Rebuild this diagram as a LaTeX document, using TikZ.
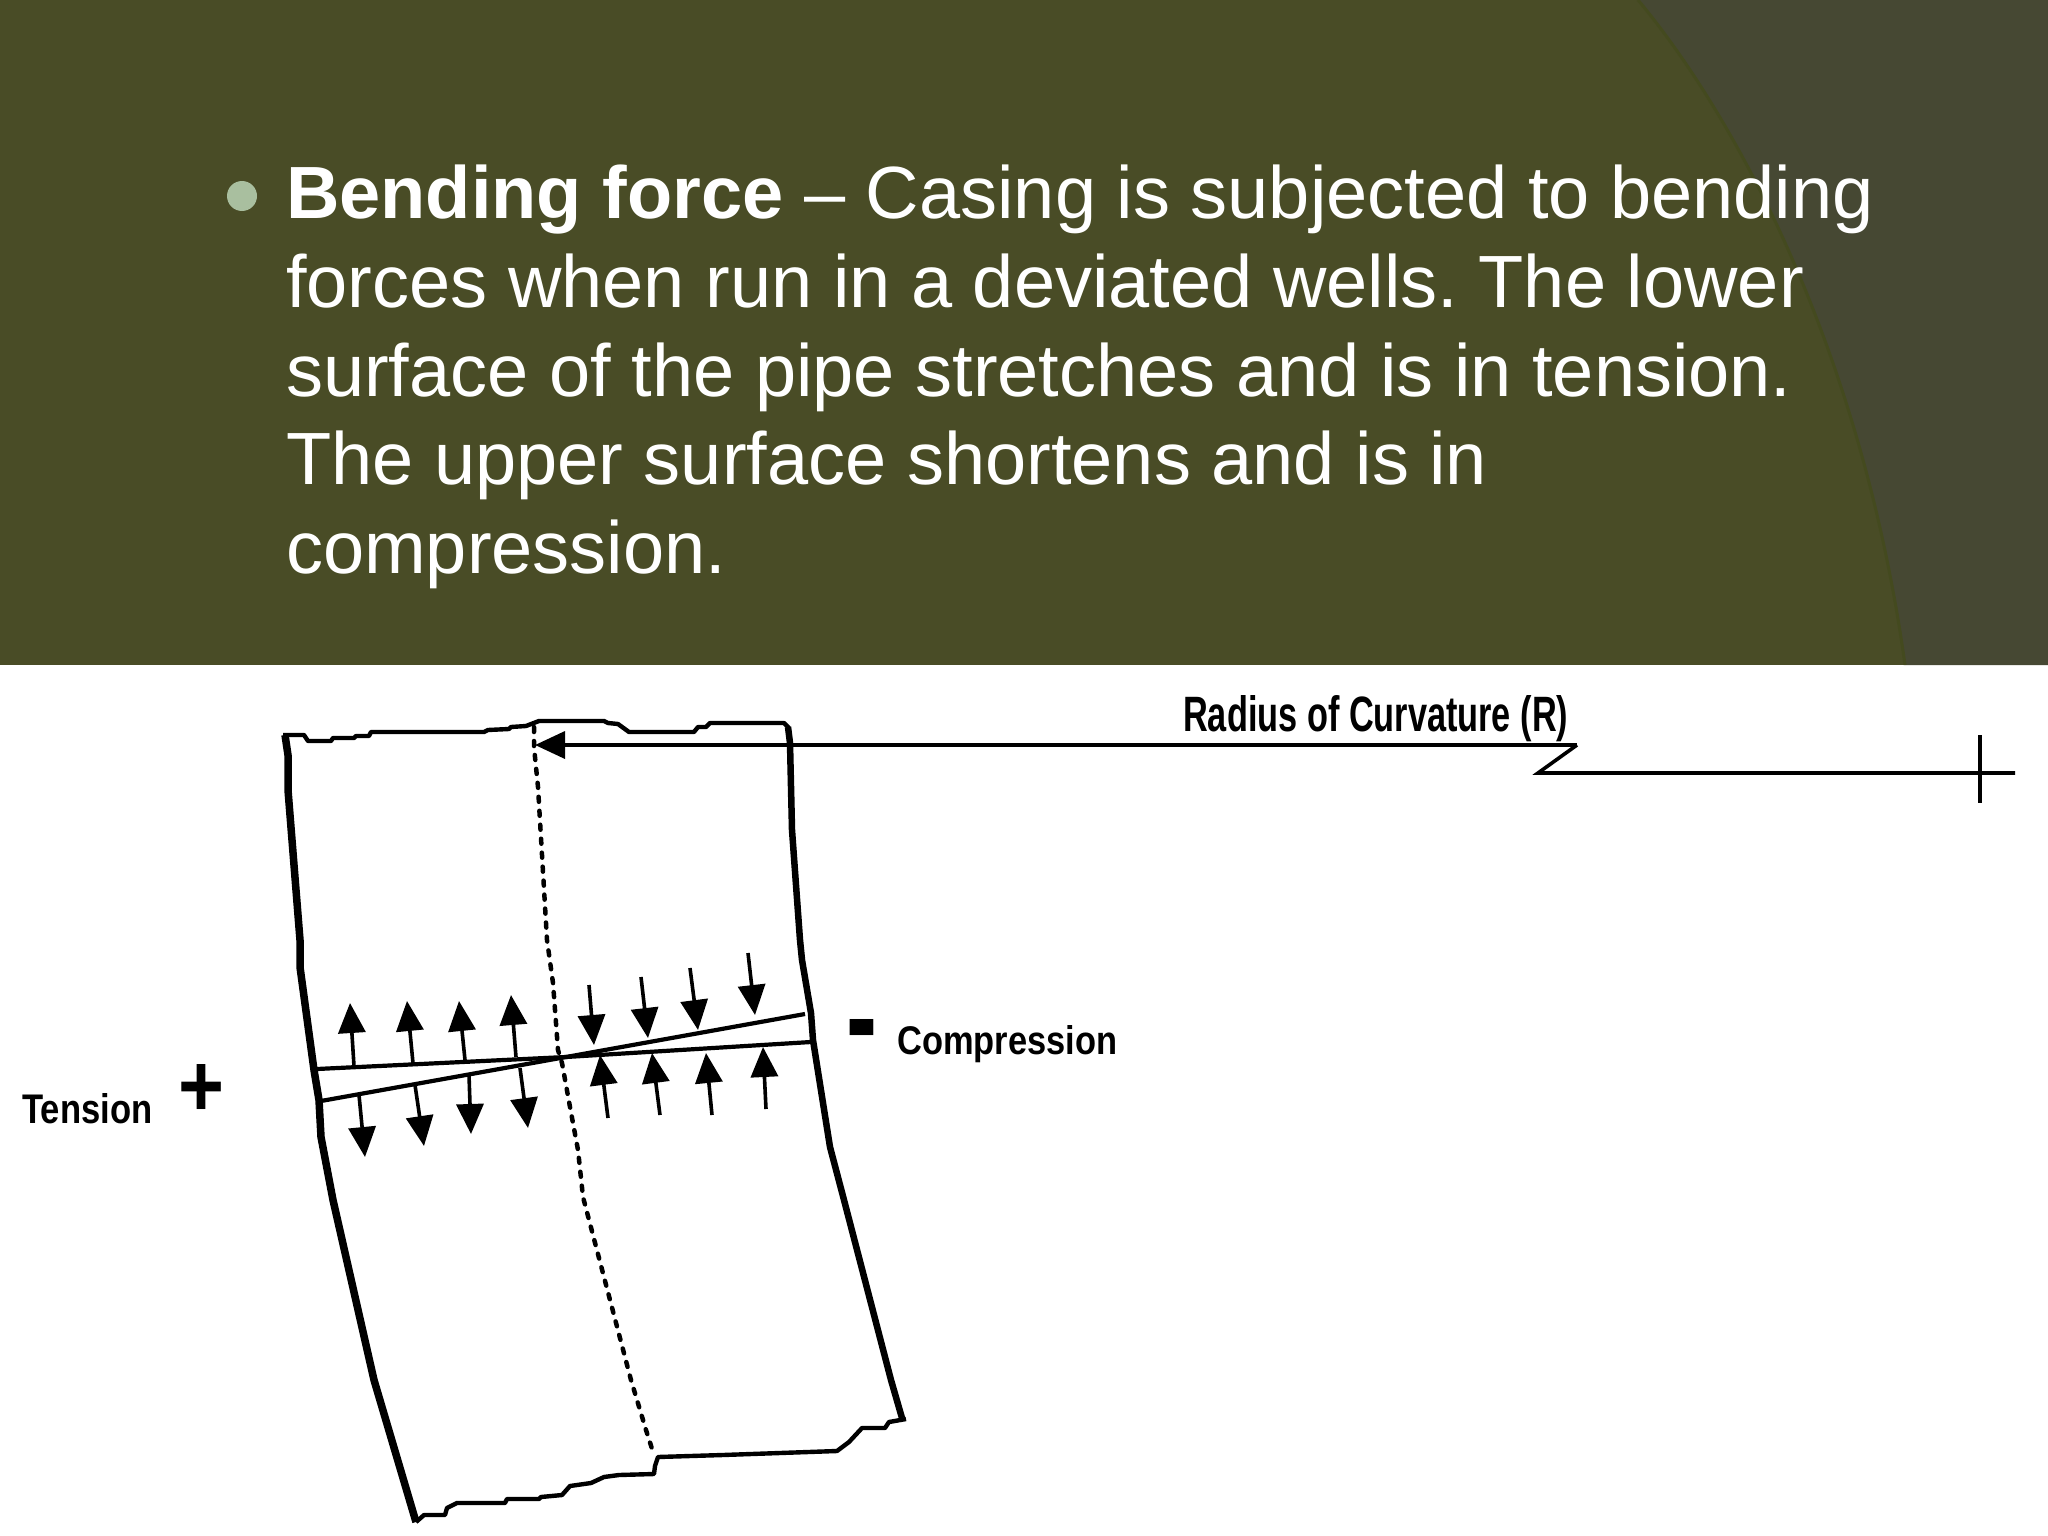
\documentclass[tikz,border=0pt]{standalone}
\usepackage{fontspec}
\setmainfont{Liberation Sans}
\usepackage{xcolor}
\usetikzlibrary{arrows.meta}
\definecolor{bandolive}{HTML}{494C26}
\definecolor{bandgrey}{HTML}{464833}
\definecolor{bandedge}{HTML}{444A1F}
\definecolor{bulletgreen}{HTML}{A9BF9F}

\begin{document}
\frenchspacing
\begin{tikzpicture}[
  x=1pt, y=-1pt,
  slidetext/.style={font=\fontsize{74}{88.7}\selectfont, text=white, align=left,
                    anchor=north west, inner sep=0pt},
  sketchlabel/.style={font=\bfseries, inner sep=0pt, anchor=base west},
  wall/.style={line width=7.5pt, line join=round},
  rim/.style={line width=4.4pt, line join=round},
  centreline/.style={line width=4.5pt, line cap=round, dash pattern=on 5pt off 9pt},
  slot/.style={line width=4.2pt},
  arr/.style={-{Triangle[length=30pt, width=27pt]}, line width=3.6pt},
  leader/.style={line width=3.6pt},
]
\useasboundingbox (0,0) rectangle (2048,1536);

% Slide band
\fill[bandolive] (0,0) rectangle (2048,665);
\fill[bandgrey] (1638,0) .. controls (1730,110) and (1860,340) .. (1905,665)
  -- (2048,665) -- (2048,0) -- cycle;
\draw[bandedge, line width=3pt] (1638,0) .. controls (1730,110) and (1860,340) .. (1905,665);

% Bullet and text
\fill[bulletgreen] (242,196) circle (15);
\node[slidetext] (body) at (286,165)
  {\textbf{Bending force} – Casing is subjected to bending\\
   forces when run in a deviated wells. The lower\\
   surface of the pipe stretches and is in tension.\\
   The upper surface shortens and is in\\
   compression.};

% Casing: rims
\draw[rim] (283,735) -- (304,735) -- (308,741) -- (331,741) -- (333,738) -- (354,738)
  -- (356,736) -- (369,736) -- (371,732) -- (484,732) -- (488,730) -- (509,729)
  -- (511,727) -- (526,726) -- (539,721) -- (604,721) -- (608,723) -- (618,724)
  -- (629,732) -- (694,732) -- (698,727) -- (706,727) -- (710,723) -- (784,723)
  -- (789,728);
\draw[rim] (416,1522) -- (424,1515) -- (445,1515) -- (447,1508) -- (457,1503) -- (505,1503)
  -- (507,1499) -- (539,1499) -- (541,1497) -- (562,1495) -- (570,1486) -- (591,1483)
  -- (604,1477) -- (619,1475) -- (654,1474) -- (655,1466) -- (658,1457) -- (723,1455)
  -- (837,1451) -- (849,1442) -- (862,1428) -- (885,1428) -- (889,1422) -- (906,1419);

% Casing: walls
\draw[wall] (285,735) -- (288,755) -- (288,790) -- (300,940) -- (300,967) -- (314,1070)
  -- (319,1100) -- (321,1137) -- (333,1200) -- (374,1380) -- (416,1522);
\draw[wall, line width=6.5pt] (788,727) -- (790,743) -- (792,830) -- (800,940) -- (802,960)
  -- (811,1013) -- (813,1040) -- (823,1103) -- (830,1147) -- (844,1200) -- (891,1380)
  -- (902,1418);

% Neutral axis
\draw[centreline] (534,727) -- (534,747) -- (538,787) -- (547,940) -- (553,983)
  -- (558,1050) -- (562,1063) -- (570,1107) -- (578,1150) -- (583,1197) -- (631,1380)
  -- (637,1400) -- (646,1430) -- (654,1455);

% Slot
\draw[slot] (317,1069) -- (566,1057) -- (811,1042);
\draw[slot] (321,1101) -- (566,1057) -- (805,1014);

% Arrows: tension side
\draw[arr] (354,1066) -- (350,1003);
\draw[arr] (413,1063) -- (407,1001);
\draw[arr] (465,1060) -- (459,1001);
\draw[arr] (516,1057) -- (511,995);
\draw[arr] (359,1095) -- (365,1157);
\draw[arr] (415,1085) -- (424,1146);
\draw[arr] (469,1075) -- (471,1134);
\draw[arr] (520,1068) -- (528,1128);

% Arrows: compression side
\draw[arr] (589,985) -- (594,1045);
\draw[arr] (641,977) -- (648,1038);
\draw[arr] (690,968) -- (698,1030);
\draw[arr] (748,953) -- (755,1015);
\draw[arr] (608,1118) -- (600,1055);
\draw[arr] (660,1115) -- (652,1053);
\draw[arr] (712,1115) -- (706,1053);
\draw[arr] (766,1109) -- (763,1047);

% Radius leader
\coordinate (axis) at (535,745);
\coordinate (kink) at (1577,745);
\coordinate (centre) at (2015,773);
\draw[arr] (kink) -- (axis);
\draw[leader] (kink) -- (1538,773) -- (centre);
\coordinate (crosstop) at (1980,735);
\coordinate (crossbot) at (1980,803);
\draw[leader] (crosstop) -- (crossbot);

% Labels
\node[sketchlabel] (radius) at (1183,731) {\resizebox{385pt}{36pt}{Radius of Curvature (R)}};
\node[sketchlabel] (compr) at (897,1054) {\resizebox{220pt}{29pt}{Compression}};
\node[sketchlabel] (tens) at (22,1123) {\resizebox{130pt}{30pt}{Tension}};
\node[sketchlabel] (plus) at (178,1116) {\resizebox{46pt}{52pt}{+}};
\node[sketchlabel] (minus) at (846,1062) {\resizebox{31pt}{43pt}{-}};
\end{tikzpicture}
\end{document}
